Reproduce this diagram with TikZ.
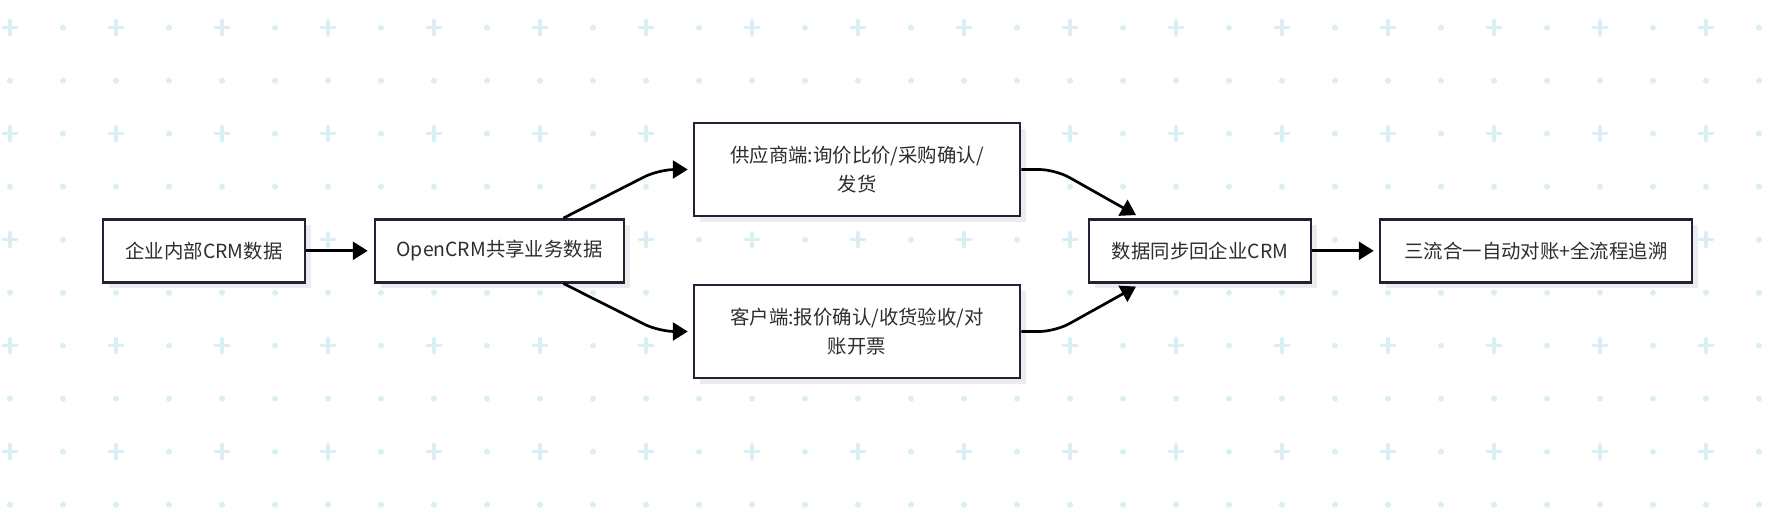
\documentclass[tikz,border=0pt]{standalone}
\usepackage{fontspec}
\setmainfont{Noto Sans CJK SC}
\usepackage{xcolor}
\usetikzlibrary{arrows.meta, shadows}
\definecolor{gridcol}{RGB}{218,239,243}
\definecolor{boxline}{RGB}{36,33,52}
\definecolor{shadowcol}{RGB}{236,236,238}

\begin{document}
\begin{tikzpicture}[x=0.5pt, y=-0.5pt, >={Triangle[length=7.5pt, width=9pt]},
  stepbox/.style={draw=boxline, line width=1.25pt, fill=white, align=center,
    text=black!82, font=\fontsize{9.7pt}{14.2pt}\selectfont, inner sep=0pt,
    minimum height=31.5pt,
    drop shadow={shadow xshift=3pt, shadow yshift=-3pt, fill=shadowcol, opacity=1}},
  flow/.style={->, line width=1.35pt, black}]
  \useasboundingbox[fill=white] (0,0) rectangle (1772,510);
  % background grid of crosses and dots
  \foreach \i in {0,...,33} {
    \foreach \j in {0,...,9} {
      \pgfmathtruncatemacro{\gpar}{mod(\i,2)+mod(\j,2)}
      \ifnum\gpar=0
        \draw[gridcol, line width=1.65pt, line cap=round]
          (10+53*\i-7,27.7+53*\j) -- (10+53*\i+7,27.7+53*\j)
          (10+53*\i,27.7+53*\j-7) -- (10+53*\i,27.7+53*\j+7);
      \else
        \fill[gridcol] (10+53*\i,27.7+53*\j) circle[radius=1.5pt];
      \fi
    }
  }
  % boxes
  \node[stepbox, minimum width=101pt] (crm) at (204,250.8) {企业内部CRM数据};
  \node[stepbox, minimum width=124.5pt] (share) at (499.5,250.8) {OpenCRM共享业务数据};
  \node[stepbox, minimum width=163pt, minimum height=46.5pt] (supp) at (857,169.5)
    {供应商端:询价比价/采购确认/\\发货};
  \node[stepbox, minimum width=163pt, minimum height=46.5pt] (cust) at (857,331.5)
    {客户端:报价确认/收货验收/对\\账开票};
  \node[stepbox, minimum width=111pt] (sync) at (1200,250.8) {数据同步回企业CRM};
  \node[stepbox, minimum width=156pt] (result) at (1536,250.8) {三流合一自动对账+全流程追溯};
  % connectors
  \draw[flow, shorten >=3pt] (crm) -- (share);
  \draw[flow, rounded corners=8pt] ([xshift=32pt]share.north)
    -- ([xshift=-17pt]supp.west) -- ([xshift=-2.5pt]supp.west);
  \draw[flow, rounded corners=8pt] ([xshift=32pt]share.south)
    -- ([xshift=-17pt]cust.west) -- ([xshift=-2.5pt]cust.west);
  \draw[flow, rounded corners=8pt] (supp.east)
    -- ([xshift=17pt]supp.east) -- ([xshift=-32pt, yshift=1.5pt]sync.north);
  \draw[flow, rounded corners=8pt] (cust.east)
    -- ([xshift=17pt]cust.east) -- ([xshift=-32pt, yshift=-1.5pt]sync.south);
  \draw[flow, shorten >=2.5pt] (sync) -- (result);
\end{tikzpicture}
\end{document}
